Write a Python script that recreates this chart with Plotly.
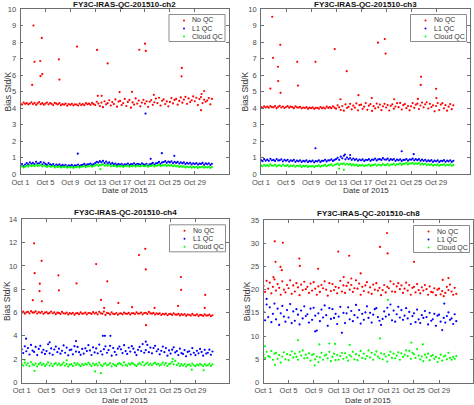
import pandas as pd
import plotly.graph_objects as go
from plotly.subplots import make_subplots

# 6-hourly samples through October 2015
times = pd.date_range("2015-10-01", periods=124, freq="6h")

channels = ["ch2", "ch3", "ch4", "ch8"]
series_names = ["No QC", "L1 QC", "Cloud QC"]
series_colors = ["#ff0000", "#0000ff", "#00ff00"]
y_max = [10, 10, 14, 35]
y_step = [1, 1, 2, 5]
tick_days = [1, 5, 9, 13, 17, 21, 25, 29]

# ---- ch2 ----
ch2_noqc = [
    4.28, 4.21, 4.33, 4.25, 4.30, 4.22, 4.27, 4.35,
    4.24, 4.31, 4.19, 4.28, 4.36, 4.23, 4.29, 4.20,
    4.27, 4.33, 4.22, 4.30, 4.25, 4.18, 4.31, 4.26,
    4.22, 4.29, 4.17, 4.24, 4.20, 4.27, 4.14, 4.23,
    4.19, 4.25, 4.16, 4.22, 4.21, 4.15, 4.27, 4.18,
    4.24, 4.17, 4.29, 4.22, 4.26, 4.19, 4.31, 4.23,
    4.18, 4.38, 4.27, 4.12, 4.33, 4.05, 4.41, 4.22,
    4.29, 4.47, 4.15, 4.36, 4.24, 4.52, 4.08, 4.39,
    4.43, 4.18, 4.30, 4.55, 4.12, 4.37, 4.49, 4.02,
    4.34, 4.21, 4.58, 4.27, 4.45, 4.10, 4.33, 4.50,
    4.26, 4.41, 4.07, 4.38, 4.48, 4.19, 4.35, 4.57,
    4.30, 4.62, 4.15, 4.44, 4.52, 4.24, 4.40, 4.10,
    4.37, 4.60, 4.28, 4.49, 4.55, 4.20, 4.43, 4.64,
    4.32, 4.51, 4.68, 4.25, 4.58, 4.36, 4.47, 4.70,
    4.41, 4.62, 4.18, 4.54, 4.66, 4.30, 4.50, 4.38,
    4.45, 4.60, 4.22, 4.55,
]
ch2_noqc_spike_t = [
    "2015-10-02 21:00", "2015-10-03 02:00", "2015-10-03 06:00", "2015-10-04 04:00",
    "2015-10-04 05:00", "2015-10-04 12:00", "2015-10-04 10:00", "2015-10-07 04:00",
    "2015-10-07 06:00", "2015-10-10 02:00", "2015-10-13 07:00", "2015-10-13 10:00",
    "2015-10-14 01:00", "2015-10-15 00:00", "2015-10-16 22:00", "2015-10-18 22:00",
    "2015-10-20 02:00", "2015-10-21 00:00", "2015-10-21 03:00", "2015-10-22 10:00",
    "2015-10-26 22:00", "2015-10-26 21:00", "2015-10-30 12:00", "2015-10-30 00:00",
    "2015-10-30 02:00",
]
ch2_noqc_spike_v = [
    5.40, 9.00, 6.80, 6.85, 5.93, 6.05, 8.25, 6.95,
    5.72, 7.72, 7.52, 4.74, 4.74, 6.70, 4.96, 4.98,
    7.53, 7.90, 7.46, 4.80, 6.43, 5.92, 5.03, 3.87,
    4.85,
]
ch2_l1qc = [
    0.52, 0.60, 0.48, 0.57, 0.66, 0.58, 0.71, 0.62,
    0.68, 0.60, 0.74, 0.63, 0.65, 0.72, 0.59, 0.69,
    0.61, 0.55, 0.66, 0.58, 0.54, 0.60, 0.50, 0.57,
    0.52, 0.58, 0.49, 0.55, 0.50, 0.56, 0.47, 0.53,
    0.49, 0.55, 0.46, 0.52, 0.51, 0.57, 0.48, 0.54,
    0.55, 0.61, 0.52, 0.58, 0.58, 0.63, 0.55, 0.60,
    0.66, 0.74, 0.69, 0.78, 0.71, 0.79, 0.66, 0.75,
    0.64, 0.70, 0.60, 0.67, 0.58, 0.63, 0.55, 0.61,
    0.56, 0.62, 0.53, 0.59, 0.57, 0.63, 0.54, 0.60,
    0.59, 0.65, 0.55, 0.62, 0.60, 0.56, 0.64, 0.58,
    0.55, 0.62, 0.51, 0.59, 0.61, 0.67, 0.57, 0.64,
    0.66, 0.73, 0.62, 0.70, 0.72, 0.78, 0.68, 0.75,
    0.70, 0.77, 0.66, 0.74, 0.67, 0.73, 0.63, 0.70,
    0.64, 0.70, 0.60, 0.67, 0.62, 0.68, 0.58, 0.65,
    0.60, 0.66, 0.57, 0.63, 0.61, 0.67, 0.56, 0.64,
    0.59, 0.65, 0.55, 0.62,
]
ch2_l1qc_spike_t = ["2015-10-10 05:00", "2015-10-21 02:00", "2015-10-23 17:00",
                    "2015-10-25 17:00", "2015-10-21 22:00"]
ch2_l1qc_spike_v = [1.23, 3.66, 1.26, 1.10, 0.92]
ch2_cloud = [
    0.42, 0.47, 0.39, 0.44, 0.50, 0.45, 0.54, 0.48,
    0.52, 0.47, 0.56, 0.49, 0.51, 0.55, 0.46, 0.53,
    0.48, 0.43, 0.51, 0.45, 0.44, 0.48, 0.40, 0.46,
    0.42, 0.46, 0.39, 0.44, 0.41, 0.45, 0.38, 0.43,
    0.40, 0.44, 0.37, 0.42, 0.42, 0.46, 0.39, 0.44,
    0.45, 0.49, 0.42, 0.47, 0.47, 0.51, 0.44, 0.49,
    0.52, 0.57, 0.49, 0.55, 0.54, 0.59, 0.50, 0.56,
    0.50, 0.54, 0.47, 0.52, 0.47, 0.51, 0.44, 0.49,
    0.46, 0.50, 0.43, 0.48, 0.47, 0.51, 0.44, 0.49,
    0.48, 0.52, 0.45, 0.50, 0.49, 0.46, 0.53, 0.48,
    0.47, 0.52, 0.44, 0.50, 0.49, 0.54, 0.46, 0.51,
    0.51, 0.55, 0.48, 0.53, 0.52, 0.56, 0.49, 0.54,
    0.50, 0.54, 0.47, 0.52, 0.46, 0.50, 0.43, 0.48,
    0.43, 0.47, 0.40, 0.45, 0.41, 0.45, 0.38, 0.43,
    0.40, 0.44, 0.37, 0.42, 0.41, 0.45, 0.38, 0.43,
    0.40, 0.44, 0.37, 0.42,
]
ch2_cloud_spike_t = ["2015-10-13 20:00"]
ch2_cloud_spike_v = [0.30]

# ---- ch3 ----
ch3_noqc = [
    4.06, 4.01, 4.10, 4.03, 4.08, 4.02, 4.12, 4.05,
    4.04, 4.11, 3.99, 4.07, 4.13, 4.03, 4.09, 4.00,
    4.06, 4.11, 4.02, 4.08, 4.05, 3.99, 4.10, 4.04,
    4.02, 4.07, 3.98, 4.03, 4.00, 4.05, 3.96, 4.02,
    3.99, 4.04, 3.95, 4.01, 4.01, 3.96, 4.06, 3.99,
    4.03, 3.97, 4.08, 4.01, 4.05, 3.99, 4.10, 4.02,
    3.96, 4.16, 4.04, 3.88, 4.12, 3.84, 4.22, 4.01,
    4.07, 4.25, 3.92, 4.14, 4.02, 4.28, 3.86, 4.17,
    4.20, 3.95, 4.08, 4.30, 3.89, 4.14, 4.24, 3.82,
    4.11, 3.98, 4.27, 4.04, 4.21, 3.87, 4.10, 4.25,
    4.03, 4.18, 3.85, 4.13, 4.22, 3.96, 4.09, 4.29,
    4.05, 4.31, 3.91, 4.17, 4.24, 3.99, 4.12, 3.86,
    4.10, 4.30, 4.01, 4.20, 4.26, 3.94, 4.15, 4.33,
    4.04, 4.22, 4.35, 3.97, 4.25, 4.06, 4.16, 3.80,
    4.12, 4.30, 3.88, 4.21, 4.29, 3.98, 4.17, 3.84,
    4.08, 4.24, 3.93, 4.16,
]
ch3_noqc_spike_t = [
    "2015-10-02 19:00", "2015-10-02 22:00", "2015-10-02 12:00", "2015-10-03 17:00",
    "2015-10-03 18:00", "2015-10-04 02:00", "2015-10-04 03:00", "2015-10-06 19:00",
    "2015-10-06 22:00", "2015-10-09 17:00", "2015-10-12 19:00", "2015-10-13 17:00",
    "2015-10-14 17:00", "2015-10-16 14:00", "2015-10-18 17:00", "2015-10-19 17:00",
    "2015-10-20 19:00", "2015-10-20 22:00", "2015-10-22 07:00", "2015-10-26 02:00",
    "2015-10-26 14:00", "2015-10-26 13:00", "2015-10-29 00:00", "2015-10-29 01:00",
]
ch3_noqc_spike_v = [
    9.53, 7.04, 5.18, 6.50, 5.63, 7.83, 4.92, 6.80,
    5.36, 6.80, 7.57, 4.53, 6.23, 4.78, 4.60, 7.96,
    8.18, 7.30, 4.53, 4.55, 5.89, 5.40, 5.16, 4.60,
]
ch3_l1qc = [
    0.84, 0.78, 0.90, 0.81, 0.87, 0.80, 0.92, 0.83,
    0.85, 0.79, 0.91, 0.82, 0.83, 0.89, 0.77, 0.86,
    0.80, 0.86, 0.75, 0.83, 0.79, 0.85, 0.74, 0.81,
    0.77, 0.83, 0.73, 0.80, 0.76, 0.82, 0.72, 0.79,
    0.75, 0.81, 0.71, 0.78, 0.77, 0.83, 0.73, 0.80,
    0.80, 0.86, 0.76, 0.83, 0.83, 0.89, 0.79, 0.85,
    0.90, 0.98, 0.86, 1.05, 0.95, 1.10, 0.89, 1.00,
    0.91, 0.97, 0.86, 0.94, 0.85, 0.91, 0.81, 0.88,
    0.83, 0.89, 0.79, 0.86, 0.84, 0.90, 0.80, 0.87,
    0.86, 0.93, 0.82, 0.89, 0.90, 0.85, 0.96, 0.88,
    0.87, 0.93, 0.82, 0.90, 0.85, 0.91, 0.80, 0.87,
    0.83, 0.89, 0.79, 0.86, 0.85, 0.91, 0.81, 0.88,
    0.87, 0.93, 0.83, 0.90, 0.84, 0.90, 0.80, 0.87,
    0.80, 0.86, 0.76, 0.83, 0.78, 0.84, 0.74, 0.81,
    0.77, 0.83, 0.73, 0.80, 0.78, 0.84, 0.74, 0.81,
    0.77, 0.83, 0.73, 0.80,
]
ch3_l1qc_spike_t = ["2015-10-09 17:00", "2015-10-23 12:00", "2015-10-25 10:00",
                    "2015-10-14 10:00", "2015-10-15 06:00"]
ch3_l1qc_spike_v = [1.56, 1.38, 1.20, 1.18, 1.15]
ch3_cloud = [
    0.52, 0.47, 0.56, 0.49, 0.54, 0.48, 0.58, 0.51,
    0.50, 0.55, 0.46, 0.52, 0.53, 0.48, 0.57, 0.50,
    0.49, 0.54, 0.45, 0.51, 0.48, 0.53, 0.44, 0.50,
    0.47, 0.52, 0.43, 0.49, 0.46, 0.51, 0.43, 0.48,
    0.46, 0.50, 0.42, 0.48, 0.48, 0.52, 0.44, 0.50,
    0.51, 0.55, 0.47, 0.53, 0.54, 0.58, 0.50, 0.56,
    0.58, 0.63, 0.54, 0.61, 0.60, 0.65, 0.56, 0.62,
    0.56, 0.61, 0.52, 0.58, 0.52, 0.57, 0.49, 0.54,
    0.51, 0.56, 0.48, 0.53, 0.52, 0.57, 0.49, 0.54,
    0.54, 0.58, 0.50, 0.56, 0.56, 0.52, 0.60, 0.54,
    0.55, 0.60, 0.51, 0.57, 0.57, 0.62, 0.53, 0.59,
    0.59, 0.64, 0.55, 0.61, 0.62, 0.67, 0.58, 0.64,
    0.63, 0.68, 0.59, 0.65, 0.61, 0.66, 0.57, 0.63,
    0.57, 0.62, 0.53, 0.59, 0.54, 0.59, 0.51, 0.56,
    0.53, 0.58, 0.50, 0.55, 0.54, 0.59, 0.51, 0.56,
    0.53, 0.58, 0.50, 0.55,
]
ch3_cloud_spike_t = ["2015-10-14 06:00", "2015-10-13 12:00"]
ch3_cloud_spike_v = [0.25, 0.33]

# ---- ch4 ----
ch4_noqc = [
    5.98, 6.08, 5.90, 6.02, 6.05, 5.93, 6.12, 5.99,
    6.01, 6.10, 5.92, 6.04, 5.96, 6.07, 5.89, 6.00,
    6.03, 5.91, 5.97, 6.09, 5.94, 6.02, 5.86, 5.99,
    5.97, 5.88, 6.05, 5.93, 5.91, 5.99, 5.84, 5.95,
    5.89, 5.97, 5.82, 5.93, 5.95, 5.86, 6.01, 5.90,
    5.92, 5.99, 5.85, 5.96, 5.96, 5.88, 6.03, 5.92,
    5.99, 5.85, 6.06, 5.93, 5.90, 6.08, 5.80, 5.97,
    5.94, 5.84, 6.02, 5.89, 5.87, 5.96, 5.81, 5.92,
    5.93, 5.85, 6.00, 5.90, 5.89, 5.97, 5.83, 5.94,
    5.95, 5.87, 6.02, 5.91, 5.92, 6.00, 5.85, 5.96,
    5.98, 5.88, 6.05, 5.93, 5.90, 5.97, 5.83, 5.94,
    5.86, 5.93, 5.79, 5.89, 5.84, 5.91, 5.77, 5.87,
    5.88, 5.80, 5.94, 5.83, 5.82, 5.89, 5.75, 5.86,
    5.79, 5.86, 5.72, 5.83, 5.81, 5.74, 5.88, 5.77,
    5.76, 5.84, 5.70, 5.80, 5.78, 5.71, 5.85, 5.74,
    5.75, 5.82, 5.69, 5.77,
]
ch4_noqc_spike_t = [
    "2015-10-03 00:00", "2015-10-03 02:00", "2015-10-02 19:00", "2015-10-03 22:00",
    "2015-10-03 21:00", "2015-10-04 05:00", "2015-10-04 06:00", "2015-10-06 22:00",
    "2015-10-07 00:00", "2015-10-09 20:00", "2015-10-13 00:00", "2015-10-13 19:00",
    "2015-10-14 19:00", "2015-10-14 07:00", "2015-10-16 14:00", "2015-10-18 19:00",
    "2015-10-19 22:00", "2015-10-20 22:00", "2015-10-21 00:00", "2015-10-21 01:00",
    "2015-10-22 10:00", "2015-10-26 05:00", "2015-10-26 17:00", "2015-10-26 16:00",
    "2015-10-30 14:00", "2015-10-30 12:00",
]
ch4_noqc_spike_v = [
    11.94, 9.38, 7.06, 8.48, 7.83, 10.44, 6.97, 9.19,
    7.91, 8.50, 10.16, 7.08, 8.68, 6.40, 6.83, 6.46,
    10.93, 11.47, 9.70, 4.92, 6.40, 6.57, 7.94, 9.05,
    7.51, 6.40,
]
ch4_l1qc = [
    2.85, 2.52, 3.10, 2.68, 2.95, 2.40, 3.22, 2.74,
    2.62, 3.05, 2.35, 2.88, 3.15, 2.58, 2.80, 2.45,
    2.70, 3.28, 2.50, 2.92, 2.38, 2.83, 3.08, 2.60,
    2.90, 2.47, 2.72, 3.18, 2.55, 3.00, 2.33, 2.78,
    2.82, 2.42, 3.12, 2.65, 3.05, 2.60, 2.37, 2.88,
    2.48, 2.93, 2.70, 3.20, 2.75, 2.36, 3.02, 2.58,
    2.92, 2.50, 3.25, 2.68, 2.40, 2.86, 3.10, 2.55,
    2.78, 3.15, 2.30, 2.95, 2.62, 2.38, 2.90, 3.08,
    2.85, 2.52, 3.20, 2.70, 2.45, 2.98, 2.65, 3.12,
    2.90, 2.58, 2.35, 2.80, 3.05, 2.70, 3.30, 2.55,
    2.78, 3.22, 2.60, 3.00, 2.50, 2.95, 3.15, 2.68,
    2.85, 2.42, 2.72, 3.08, 2.60, 2.95, 2.30, 2.75,
    2.48, 2.82, 3.02, 2.58, 2.70, 2.36, 2.90, 2.52,
    2.45, 2.78, 2.25, 2.62, 2.68, 2.40, 2.95, 2.55,
    2.35, 2.72, 2.50, 2.88, 2.62, 2.30, 2.80, 2.48,
    2.55, 2.82, 2.38, 2.66,
]
ch4_l1qc_spike_t = ["2015-10-01 17:00", "2015-10-14 02:00", "2015-10-14 10:00",
                    "2015-10-15 07:00", "2015-10-21 00:00", "2015-10-05 12:00",
                    "2015-10-09 18:00"]
ch4_l1qc_spike_v = [3.76, 4.00, 4.00, 4.00, 3.50, 3.45, 3.55]
ch4_cloud = [
    1.58, 1.45, 1.70, 1.52, 1.65, 1.40, 1.75, 1.55,
    1.48, 1.62, 1.38, 1.57, 1.68, 1.50, 1.60, 1.42,
    1.55, 1.72, 1.46, 1.63, 1.40, 1.58, 1.67, 1.50,
    1.62, 1.47, 1.55, 1.70, 1.45, 1.60, 1.38, 1.53,
    1.57, 1.42, 1.66, 1.50, 1.64, 1.52, 1.40, 1.58,
    1.48, 1.61, 1.54, 1.69, 1.55, 1.41, 1.63, 1.49,
    1.60, 1.46, 1.70, 1.52, 1.40, 1.56, 1.65, 1.47,
    1.54, 1.67, 1.38, 1.60, 1.49, 1.42, 1.58, 1.66,
    1.57, 1.46, 1.72, 1.52, 1.44, 1.62, 1.53, 1.68,
    1.60, 1.50, 1.41, 1.56, 1.66, 1.54, 1.75, 1.47,
    1.58, 1.70, 1.50, 1.63, 1.48, 1.62, 1.69, 1.55,
    1.61, 1.45, 1.56, 1.71, 1.52, 1.66, 1.42, 1.58,
    1.63, 1.78, 1.55, 1.85, 1.50, 1.64, 1.42, 1.57,
    1.45, 1.58, 1.38, 1.52, 1.55, 1.43, 1.62, 1.48,
    1.40, 1.53, 1.47, 1.60, 1.52, 1.41, 1.58, 1.46,
    1.48, 1.60, 1.43, 1.55,
]
ch4_cloud_spike_t = ["2015-10-03 02:00", "2015-10-13 18:00", "2015-10-12 20:00",
                     "2015-10-25 08:00", "2015-10-01 12:00", "2015-10-08 06:00",
                     "2015-10-28 10:00", "2015-10-30 08:00"]
ch4_cloud_spike_v = [1.00, 0.80, 0.95, 2.02, 1.95, 1.90, 1.10, 1.05]

# ---- ch8 ----
ch8_noqc = [
    20.8, 19.5, 21.9, 20.2, 21.5, 19.2, 20.6, 22.2,
    19.8, 21.2, 20.4, 18.9, 21.8, 20.0, 19.4, 21.0,
    20.3, 22.0, 19.1, 20.9, 19.6, 21.4, 20.5, 18.8,
    21.1, 19.9, 21.7, 20.1, 20.6, 19.3, 21.3, 19.8,
    21.6, 20.2, 18.9, 20.7, 19.5, 21.0, 20.3, 21.8,
    20.0, 18.7, 21.4, 19.7, 21.2, 19.9, 20.6, 19.2,
    20.4, 21.9, 19.6, 20.9, 19.3, 20.8, 21.5, 20.0,
    21.0, 19.5, 20.3, 22.0, 20.2, 21.3, 18.9, 20.6,
    19.7, 20.9, 21.6, 19.4, 20.5, 19.1, 21.1, 20.0,
    21.4, 19.8, 20.4, 18.8, 19.9, 21.0, 19.4, 20.6,
    20.3, 21.8, 19.6, 21.2, 19.5, 20.7, 21.4, 20.1,
    20.9, 19.3, 20.2, 21.5, 19.8, 21.0, 18.9, 20.4,
    20.6, 19.4, 21.2, 19.9, 19.2, 20.5, 19.8, 21.0,
    20.1, 18.9, 20.7, 19.5, 19.4, 20.3, 18.8, 20.0,
    20.2, 19.0, 19.7, 18.6, 19.3, 20.6, 19.9, 21.1,
    19.6, 18.9, 20.4, 19.1,
]
ch8_noqc_spike_t = [
    "2015-10-02 19:00", "2015-10-04 02:00", "2015-10-02 22:00", "2015-10-03 17:00",
    "2015-10-03 22:00", "2015-10-02 14:00", "2015-10-06 17:00", "2015-10-06 19:00",
    "2015-10-09 17:00", "2015-10-12 22:00", "2015-10-14 16:00", "2015-10-13 19:00",
    "2015-10-15 00:00", "2015-10-16 12:00", "2015-10-19 14:00", "2015-10-20 17:00",
    "2015-10-20 19:00", "2015-10-25 00:00", "2015-10-29 14:00", "2015-10-30 12:00",
]
ch8_noqc_spike_v = [
    30.4, 30.1, 26.0, 24.9, 24.2, 22.7, 26.7, 25.1,
    24.5, 28.2, 27.3, 22.7, 22.4, 23.5, 29.2, 32.2,
    27.8, 26.0, 22.1, 22.5,
]
ch8_l1qc = [
    15.2, 13.4, 16.8, 14.1, 16.2, 13.0, 14.8, 17.0,
    13.6, 15.9, 12.4, 14.9, 16.5, 14.2, 13.1, 15.6,
    14.0, 16.9, 12.8, 15.3, 13.3, 15.8, 14.6, 12.5,
    15.5, 13.8, 16.4, 14.3, 14.7, 12.9, 15.9, 13.5,
    16.1, 14.4, 11.2, 14.9, 13.2, 15.7, 14.0, 16.6,
    14.5, 12.2, 16.0, 13.7, 15.8, 13.9, 14.8, 12.6,
    14.2, 16.3, 10.7, 15.0, 12.8, 14.9, 16.2, 13.6,
    15.4, 13.2, 14.5, 16.7, 14.0, 15.6, 12.7, 14.8,
    13.5, 15.1, 16.4, 13.9, 15.0, 12.9, 14.6, 15.8,
    16.0, 14.1, 13.3, 12.4, 13.7, 15.3, 14.2, 16.1,
    14.6, 16.8, 13.4, 15.5, 13.1, 14.7, 16.3, 14.0,
    15.6, 13.5, 14.4, 16.0, 13.8, 15.2, 12.6, 14.3,
    14.9, 13.0, 15.7, 13.6, 12.8, 14.5, 13.9, 15.4,
    14.1, 12.5, 15.0, 13.3, 13.6, 14.8, 12.2, 14.4,
    14.6, 13.1, 11.3, 13.9, 12.9, 14.3, 15.1, 13.5,
    13.8, 12.6, 14.7, 13.2,
]
ch8_l1qc_spike_t = ["2015-10-01 12:00", "2015-10-29 20:00", "2015-10-09 06:00"]
ch8_l1qc_spike_v = [18.0, 17.0, 11.0]
ch8_cloud = [
    6.0, 5.3, 6.6, 5.7, 5.5, 6.8, 4.9, 6.2,
    6.4, 5.1, 5.9, 4.3, 5.6, 6.5, 5.0, 6.1,
    4.8, 5.9, 6.7, 5.4, 6.2, 5.5, 4.9, 6.6,
    5.8, 6.9, 5.2, 6.0, 5.3, 6.3, 4.7, 5.9,
    6.1, 5.0, 5.6, 4.4, 5.4, 6.4, 4.9, 5.8,
    6.0, 5.2, 6.6, 4.6, 5.5, 6.2, 4.8, 5.9,
    4.9, 5.7, 6.4, 5.1, 6.3, 5.4, 4.7, 5.9,
    5.6, 6.6, 5.0, 6.1, 4.8, 5.8, 6.8, 5.3,
    6.2, 5.1, 5.7, 6.9, 5.4, 6.4, 4.9, 6.0,
    6.7, 5.6, 5.2, 6.3, 5.0, 6.1, 5.6, 4.5,
    5.9, 6.6, 5.3, 6.2, 5.2, 5.8, 6.5, 4.9,
    6.3, 5.5, 6.0, 6.9, 5.7, 6.8, 5.1, 6.4,
    6.1, 5.3, 7.2, 5.8, 5.0, 5.6, 4.6, 6.0,
    5.4, 6.2, 4.8, 5.7, 5.9, 5.1, 5.5, 4.4,
    5.2, 6.0, 4.7, 5.6, 5.8, 5.0, 6.4, 5.3,
    4.9, 5.5, 5.1, 5.7,
]
ch8_cloud_spike_t = ["2015-10-01 06:00", "2015-10-06 12:00", "2015-10-09 22:00",
                     "2015-10-11 12:00", "2015-10-12 10:00", "2015-10-14 18:00",
                     "2015-10-19 14:00", "2015-10-24 14:00", "2015-10-26 10:00",
                     "2015-10-20 20:00", "2015-10-02 20:00", "2015-10-09 04:00"]
ch8_cloud_spike_v = [7.8, 9.1, 8.2, 8.4, 8.3, 8.1, 9.5, 8.6, 8.2, 17.8, 3.8, 3.7]

panels = [
    [(ch2_noqc, ch2_noqc_spike_t, ch2_noqc_spike_v),
     (ch2_l1qc, ch2_l1qc_spike_t, ch2_l1qc_spike_v),
     (ch2_cloud, ch2_cloud_spike_t, ch2_cloud_spike_v)],
    [(ch3_noqc, ch3_noqc_spike_t, ch3_noqc_spike_v),
     (ch3_l1qc, ch3_l1qc_spike_t, ch3_l1qc_spike_v),
     (ch3_cloud, ch3_cloud_spike_t, ch3_cloud_spike_v)],
    [(ch4_noqc, ch4_noqc_spike_t, ch4_noqc_spike_v),
     (ch4_l1qc, ch4_l1qc_spike_t, ch4_l1qc_spike_v),
     (ch4_cloud, ch4_cloud_spike_t, ch4_cloud_spike_v)],
    [(ch8_noqc, ch8_noqc_spike_t, ch8_noqc_spike_v),
     (ch8_l1qc, ch8_l1qc_spike_t, ch8_l1qc_spike_v),
     (ch8_cloud, ch8_cloud_spike_t, ch8_cloud_spike_v)],
]

W, H = 474, 405
# axes boxes in pixels: left, right, top, bottom
boxes = [(20.5, 228.5, 9, 174), (261, 470, 9, 174),
         (21.7, 229, 219.3, 382.5), (263.5, 473, 220, 382.5)]
ytitle_dx = [12.5, 16, 14.5, 16.5]
xtitle_y = [190, 190, 400.5, 400.5]

FONT = "Liberation Sans, Arial, sans-serif"
AXC = "#6e6e6e"

fig = make_subplots(rows=2, cols=2)

for i, series in enumerate(panels):
    row, col = i // 2 + 1, i % 2 + 1
    for j, (base, st, sv) in enumerate(series):
        xs = list(times[:len(base)]) + list(pd.to_datetime(st))
        ys = list(base) + list(sv)
        fig.add_trace(go.Scatter(
            x=xs, y=ys, mode="markers", name=series_names[j], showlegend=False,
            marker=dict(size=2.2, color=series_colors[j], line=dict(width=0)),
        ), row=row, col=col)

    l, r, t, b = boxes[i]
    xa = "xaxis" if i == 0 else f"xaxis{i + 1}"
    ya = "yaxis" if i == 0 else f"yaxis{i + 1}"
    fig.layout[xa].update(
        domain=[l / W, r / W], type="date", automargin=False,
        range=["2015-10-01 00:00", "2015-11-03 10:00"],
        tickvals=[f"2015-10-{d:02d}" for d in tick_days],
        ticktext=[f"Oct {d}" for d in tick_days],
        showline=True, linecolor=AXC, linewidth=0.8, mirror="ticks",
        ticks="inside", ticklen=3, tickcolor=AXC, tickwidth=0.8,
        showgrid=False, zeroline=False, ticklabelstandoff=1,
        tickfont=dict(size=7.5, color="#4a4a4a", family=FONT),
    )
    fig.layout[ya].update(
        domain=[1 - b / H, 1 - t / H], range=[0, y_max[i]], automargin=False,
        tick0=0, dtick=y_step[i],
        showline=True, linecolor=AXC, linewidth=0.8, mirror="ticks",
        ticks="inside", ticklen=3, tickcolor=AXC, tickwidth=0.8,
        showgrid=False, zeroline=False, ticklabelstandoff=2,
        tickfont=dict(size=7.5, color="#4a4a4a", family=FONT),
    )

    cx = (l + r) / 2 / W
    fig.add_annotation(text=f"<b>FY3C-IRAS-QC-201510-{channels[i]}</b>",
                       x=cx, y=1 - max(t - 6.5, 4.5) / H, xref="paper", yref="paper",
                       showarrow=False, xanchor="center", yanchor="middle",
                       font=dict(size=8, color="#111", family=FONT))
    fig.add_annotation(text="Date of 2015", x=cx, y=1 - xtitle_y[i] / H,
                       xref="paper", yref="paper", showarrow=False,
                       xanchor="center", yanchor="middle",
                       font=dict(size=8, color="#333", family=FONT))
    fig.add_annotation(text="Bias Std/K", x=(l - ytitle_dx[i]) / W,
                       y=1 - (t + b) / 2 / H, xref="paper", yref="paper",
                       showarrow=False, textangle=-90,
                       xanchor="center", yanchor="middle",
                       font=dict(size=8.5, color="#333", family=FONT))

    # legend box (drawn by hand so it can stay as compact as the original)
    lx1 = r - 3.5
    lx0 = lx1 - 56
    ly0 = t + 5.5
    ly1 = ly0 + 27
    fig.add_shape(type="rect", xref="paper", yref="paper",
                  x0=lx0 / W, x1=lx1 / W, y0=1 - ly1 / H, y1=1 - ly0 / H,
                  line=dict(color=AXC, width=0.8), fillcolor="white")
    for j, name in enumerate(series_names):
        yy = ly0 + 6 + j * 8
        mx = lx0 + 15
        fig.add_shape(type="circle", xref="paper", yref="paper",
                      x0=(mx - 1.0) / W, x1=(mx + 1.0) / W,
                      y0=1 - (yy + 1.0) / H, y1=1 - (yy - 1.0) / H,
                      line=dict(width=0), fillcolor=series_colors[j])
        fig.add_annotation(text=name, x=(lx0 + 21) / W, y=1 - yy / H,
                           xref="paper", yref="paper", showarrow=False,
                           xanchor="left", yanchor="middle",
                           font=dict(size=7, color="#333", family=FONT))

fig.update_layout(
    width=W, height=H, margin=dict(l=0, r=0, t=0, b=0),
    plot_bgcolor="white", paper_bgcolor="white", showlegend=False,
    font=dict(family=FONT),
)

# the page's default body margin would push the figure off the window
fig.write_html("out.html", config={"displayModeBar": False},
               post_script="document.body.style.margin='0';")
